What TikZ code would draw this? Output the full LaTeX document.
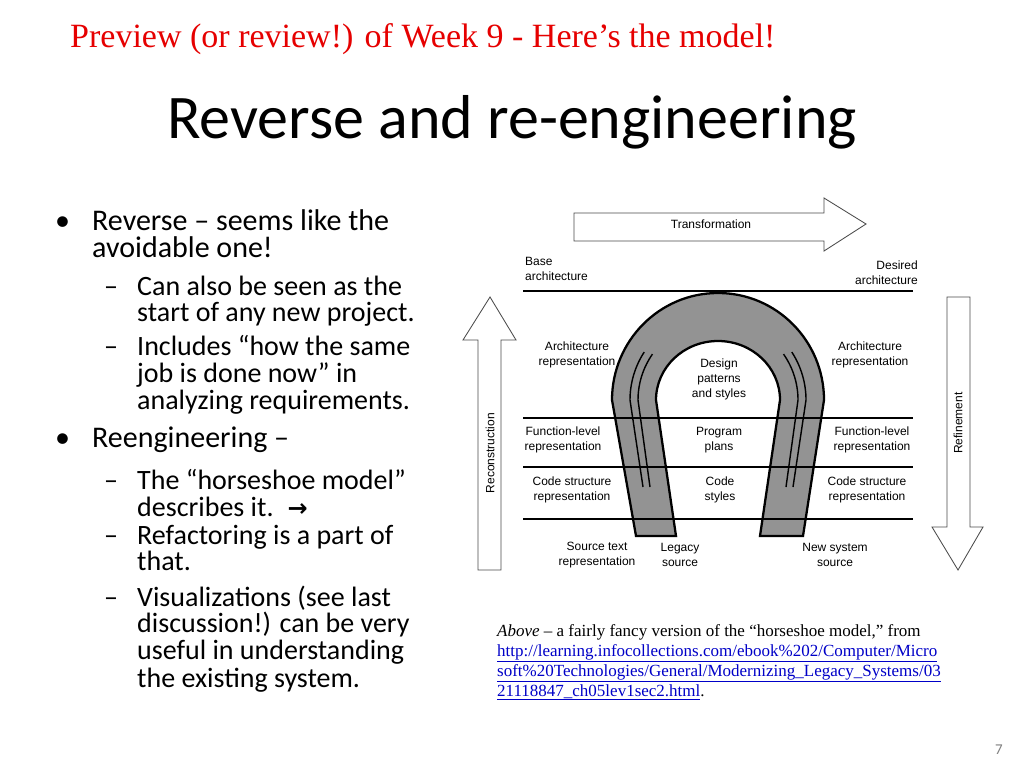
\documentclass[tikz,border=0pt]{standalone}
\usepackage{fontspec}
\setmainfont{Carlito}
\newfontfamily\figfont{Liberation Sans}
\newfontfamily\capfont{Liberation Serif}
\newfontfamily\symfont{DejaVu Sans}
\usepackage{xcolor}
\definecolor{hdrred}{RGB}{230,0,0}
\definecolor{linkblue}{RGB}{0,0,200}
\begin{document}
\begin{tikzpicture}[x=1pt,y=-1pt,
  lbl/.style={font=\figfont\fontsize{12}{15}\selectfont,align=center,inner sep=0pt},
  blockarrow/.style={draw=black!70,line width=0.3mm,fill=white},
  level/.style={line width=0.8mm},
  bul/.style={anchor=base west,inner sep=0pt,font=\fontsize{30}{32}\selectfont},
  sub/.style={anchor=base west,inner sep=0pt,font=\fontsize{28}{30}\selectfont},
  captxt/.style={anchor=base west,inner sep=0pt,font=\capfont\fontsize{17}{20}\selectfont}]
  \useasboundingbox (0,0) rectangle (1024,768);
  \fill[white] (0,0) rectangle (1024,768);

  % slide header and title
  \node[anchor=base west,inner sep=0pt,text=hdrred,font=\capfont\fontsize{34}{36}\selectfont] (hdr) at (70,48) {Preview (or review!) of Week 9 - Here’s the model!};
  \node[anchor=base,inner sep=0pt,font=\fontsize{62}{64}\selectfont] (title) at (512,138) {Reverse and re-engineering};

  % bullets
  \node[bul] (b1) at (55,230) {•};
  \node[bul] (t1) at (92,230) {Reverse – seems like the};
  \node[bul] (t1b) at (92,257) {avoidable one!};
  \node[sub] (d1) at (104,295) {–};
  \node[sub] (s1) at (137,295) {Can also be seen as the};
  \node[sub] (s1b) at (137,321) {start of any new project.};
  \node[sub] (d2) at (104,355) {–};
  \node[sub] (s2) at (137,355) {Includes “how the same};
  \node[sub] (s2b) at (137,382) {job is done now” in};
  \node[sub] (s2c) at (137,409) {analyzing requirements.};
  \node[bul] (b2) at (55,447) {•};
  \node[bul] (t2) at (92,447) {Reengineering –};
  \node[sub] (d3) at (104,489) {–};
  \node[sub] (s3) at (137,489) {The “horseshoe model”};
  \node[sub] (s3b) at (137,516) {describes it.\hspace{14pt}{\symfont\bfseries\fontsize{24}{26}\selectfont →}};
  \node[sub] (d4) at (104,544) {–};
  \node[sub] (s4) at (137,544) {Refactoring is a part of};
  \node[sub] (s4b) at (137,570) {that.};
  \node[sub] (d5) at (104,606) {–};
  \node[sub] (s5) at (137,606) {Visualizations (see last};
  \node[sub] (s5b) at (137,632) {discussion!) can be very};
  \node[sub] (s5c) at (137,659) {useful in understanding};
  \node[sub] (s5d) at (137,687) {the existing system.};

  % block arrows
  \draw[blockarrow] (574,213) -- (824,213) -- (824,198) -- (866,224) -- (824,251) -- (824,241) -- (574,241) -- cycle;
  \draw[blockarrow] (478,570) -- (478,340) -- (463,340) -- (490,297) -- (516,340) -- (501,340) -- (501,570) -- cycle;
  \draw[blockarrow] (947,297) -- (970,297) -- (970,527) -- (983,527) -- (958,570) -- (932,527) -- (947,527) -- cycle;

  % horseshoe
  \draw[fill=gray!85,line width=0.8mm] (636,536) -- (612,400)
    arc[start angle=180,end angle=360,x radius=106,y radius=107]
    -- (803,536) -- (760,536) -- (780,400)
    arc[start angle=0,end angle=-180,x radius=62,y radius=59]
    -- (676,536) -- cycle;
  \draw[line width=0.5mm] ([shift={(215:80)}]718,400) arc[start angle=215,end angle=180,radius=80] -- (650,487);
  \draw[line width=0.5mm] ([shift={(213:88)}]718,400) arc[start angle=213,end angle=180,radius=88] -- (643,487);
  \draw[line width=0.5mm] ([shift={(325:80)}]718,400) arc[start angle=325,end angle=360,radius=80] -- (786,487);
  \draw[line width=0.5mm] ([shift={(327:88)}]718,400) arc[start angle=327,end angle=360,radius=88] -- (793,487);

  % level lines
  \foreach \yy in {291,418,467,519}
    \draw[level] (523,\yy) -- (913,\yy);

  % labels
  \node[lbl] (trf) at (711,224) {Transformation};
  \node[lbl,align=left,anchor=west] (base) at (525,269) {Base\\architecture};
  \node[lbl,align=right,anchor=east] (des) at (918,273) {Desired\\architecture};
  \node[lbl] (archl) at (577,355) {Architecture\\representation};
  \node[lbl] (archr) at (870,355) {Architecture\\representation};
  \node[lbl] (dps) at (719,379) {Design\\patterns\\and styles};
  \node[lbl] (funl) at (563,440) {Function-level\\representation};
  \node[lbl] (funr) at (872,440) {Function-level\\representation};
  \node[lbl] (pp) at (719,440) {Program\\plans};
  \node[lbl] (csl) at (572,490) {Code structure\\representation};
  \node[lbl] (csr) at (867,490) {Code structure\\representation};
  \node[lbl] (cst) at (720,490) {Code\\styles};
  \node[lbl] (src) at (597,555) {Source text\\representation};
  \node[lbl] (leg) at (680,555) {Legacy\\source};
  \node[lbl] (nss) at (835,555) {New system\\source};
  \node[lbl,rotate=90] (rec) at (490,453) {Reconstruction};
  \node[lbl,rotate=90] (ref) at (958,423) {Refinement};

  % caption
  \node[captxt] (c1) at (497,636) {\textit{Above} – a fairly fancy version of the “horseshoe model,” from};
  \node[captxt,text=linkblue] (c2) at (497,656) {\underline{http://learning.infocollections.com/ebook\%202/Computer/Micro}};
  \node[captxt,text=linkblue] (c3) at (497,676) {\underline{soft\%20Technologies/General/Modernizing\_Legacy\_Systems/03}};
  \node[captxt] (c4) at (497,696) {\textcolor{linkblue}{\underline{21118847\_ch05lev1sec2.html}}.};

  \node[inner sep=0pt,text=gray,font=\fontsize{15}{16}\selectfont] (pg) at (999,750) {7};
\end{tikzpicture}
\end{document}
